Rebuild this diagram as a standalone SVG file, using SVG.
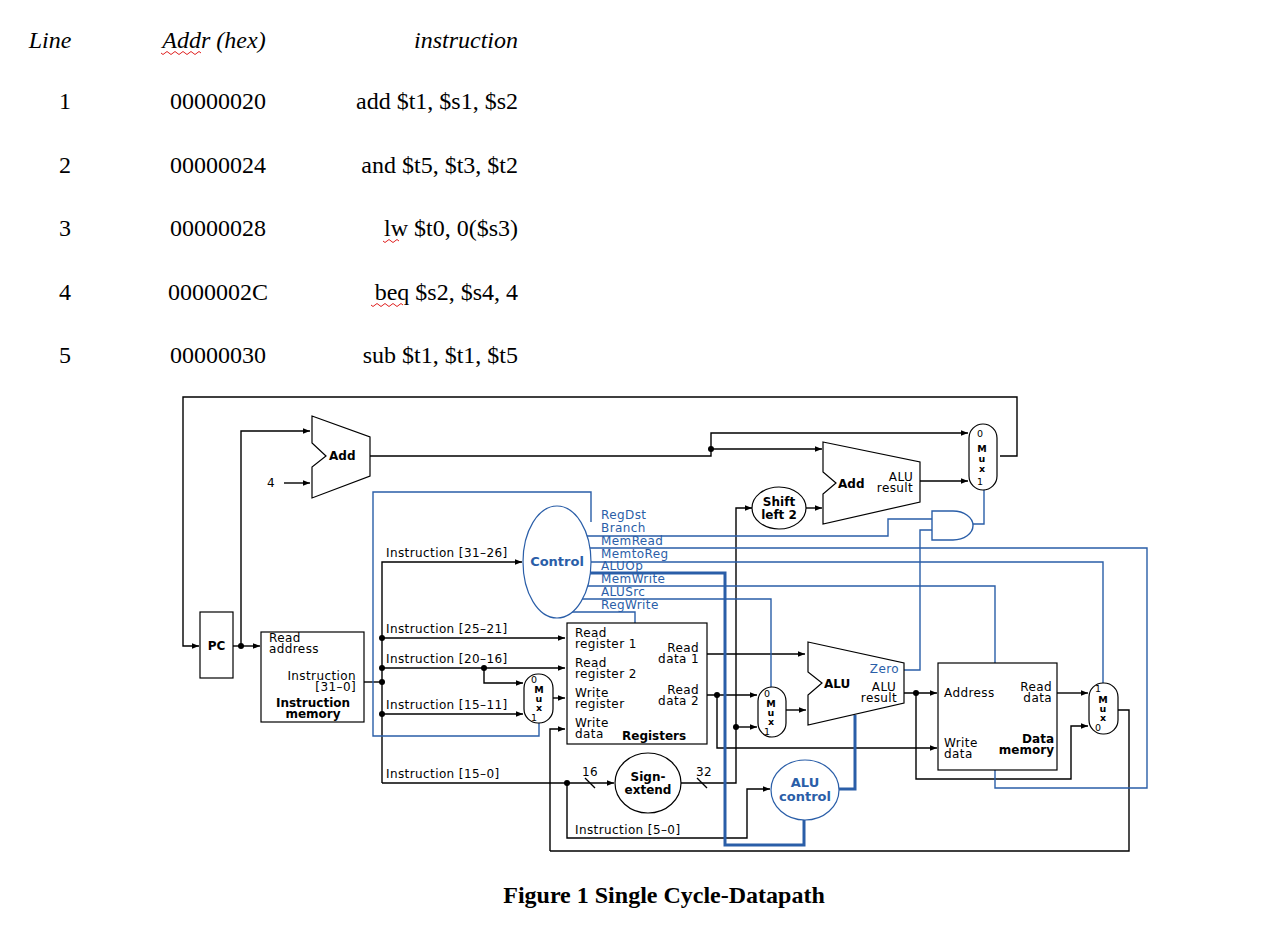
<svg xmlns="http://www.w3.org/2000/svg" width="1286" height="950" viewBox="0 0 1286 950">
<style>
.t{font-family:"Liberation Serif",serif;font-size:24px;fill:#000}
.ti{font-family:"Liberation Serif",serif;font-size:24px;font-style:italic;fill:#000}
.s{font-family:"DejaVu Sans",sans-serif;font-size:12px;letter-spacing:0.4px;fill:#000}
.sb{font-family:"DejaVu Sans",sans-serif;font-size:12px;font-weight:bold;fill:#000}
.b{font-family:"DejaVu Sans",sans-serif;font-size:12px;letter-spacing:0.4px;fill:#2a5ea8}
.bb{font-family:"DejaVu Sans",sans-serif;font-size:13px;font-weight:bold;fill:#2a5ea8}
.mx{font-family:"DejaVu Sans",sans-serif;font-size:9.5px;font-weight:bold;fill:#000;text-anchor:middle}
.mn{font-family:"DejaVu Sans",sans-serif;font-size:9.5px;fill:#000;text-anchor:middle}
.k{fill:none;stroke:#000;stroke-width:1.4}
.u{fill:none;stroke:#2a5ea8;stroke-width:1.4}
.ut{fill:none;stroke:#2a5ea8;stroke-width:3}
.box{fill:#fff;stroke:#000;stroke-width:1.2}
.a{marker-end:url(#ah)}
.sq{fill:none;stroke:#e02020;stroke-width:1}
</style>
<defs>
<marker id="ah" viewBox="0 0 10 10" refX="10" refY="5" markerWidth="9" markerHeight="7" markerUnits="userSpaceOnUse" orient="auto"><path d="M0,1 L10,5 L0,9 z" fill="#000"/></marker>
</defs>
<rect width="1286" height="950" fill="#fff"/>
<g id="table">
<text class="ti" x="50" y="48" text-anchor="middle">Line</text>
<text class="ti" x="214" y="48" text-anchor="middle">Addr (hex)</text>
<text class="ti" x="518" y="48" text-anchor="end">instruction</text>
<path class="sq" d="M161,53 q2,3 4,0 t4,0 t4,0 t4,0 t4,0 t4,0 t4,0 t4,0 t4,0 t4,0"/>
<text class="t" x="65" y="109" text-anchor="middle">1</text><text class="t" x="218" y="109" text-anchor="middle">00000020</text><text class="t" x="518" y="109" text-anchor="end">add $t1, $s1, $s2</text>
<text class="t" x="65" y="173" text-anchor="middle">2</text><text class="t" x="218" y="173" text-anchor="middle">00000024</text><text class="t" x="518" y="173" text-anchor="end">and $t5, $t3, $t2</text>
<text class="t" x="65" y="236" text-anchor="middle">3</text><text class="t" x="218" y="236" text-anchor="middle">00000028</text><text class="t" x="518" y="236" text-anchor="end">lw $t0, 0($s3)</text>
<path class="sq" d="M383,241 q2,3 4,0 t4,0 t4,0 t4,0"/>
<text class="t" x="65" y="300" text-anchor="middle">4</text><text class="t" x="218" y="300" text-anchor="middle">0000002C</text><text class="t" x="518" y="300" text-anchor="end">beq $s2, $s4, 4</text>
<path class="sq" d="M371,305 q2,3 4,0 t4,0 t4,0 t4,0 t4,0 t4,0 t4,0 t4,0"/>
<text class="t" x="65" y="363" text-anchor="middle">5</text><text class="t" x="218" y="363" text-anchor="middle">00000030</text><text class="t" x="518" y="363" text-anchor="end">sub $t1, $t1, $t5</text>
</g>
<g id="connectors">
<path class="k a" d="M1000,456 H1017 V397 H183 V646 H199"/>
<path class="k a" d="M233,646 H260"/>
<path class="k a" d="M241,646 V431 H310"/>
<path class="k a" d="M284,483 H310"/>
<path class="k a" d="M370,456 H711 V433 H968"/>
<path class="k a" d="M711,449 H822"/>
<path class="k a" d="M920,481 H968"/>
<path class="k a" d="M806,508 H822"/>
<path class="k a" d="M680,783 H736 V508 H752"/>
<path class="k a" d="M736,727 H757"/>
<path class="k" d="M364,682 H382"/>
<path class="k a" d="M382,783 V562 H522"/>
<path class="k a" d="M382,638 H565"/>
<path class="k a" d="M382,668 H565"/>
<path class="k a" d="M484,668 V683 H523"/>
<path class="k a" d="M382,714 H523"/>
<path class="k a" d="M553,698 H565"/>
<path class="k a" d="M382,783 H614"/>
<path class="k" d="M585,778 l10,10 M697,778 l10,10"/>
<path class="k a" d="M567,783 V838 H747 V789 H770"/>
<path class="k a" d="M550,851 V729 H565"/>
<path class="k" d="M550,851 H1129 V710 H1118"/>
<path class="k a" d="M707,654 H805"/>
<path class="k a" d="M707,695 H757"/>
<path class="k a" d="M717,695 V748 H937"/>
<path class="k a" d="M786,710 H806"/>
<path class="k a" d="M904,693 H937"/>
<path class="k a" d="M916,693 V779 H1071 V726 H1088"/>
<path class="k a" d="M1057,693 H1088"/>
<path class="u" d="M591,522 V492 H373 V736 H539 V723"/>
<path class="u" d="M560,536 H888 V519 H932"/>
<path class="u" d="M904,670 H920 V530 H932"/>
<path class="u" d="M973,524 H984 V490"/>
<path class="u" d="M560,548 H1147 V788 H995 V770"/>
<path class="u" d="M560,562 H1103 V684"/>
<path class="ut" d="M560,573 H725 V845 H804 V820"/>
<path class="ut" d="M839,789 H855 V715"/>
<path class="u" d="M560,586 H995 V663"/>
<path class="u" d="M560,599 H771 V688"/>
<path class="u" d="M560,612 H635 V623"/>
<g fill="#000">
<circle cx="241" cy="646" r="3"/><circle cx="711" cy="449" r="3"/><circle cx="382" cy="638" r="3"/><circle cx="382" cy="668" r="3"/><circle cx="382" cy="682" r="3"/><circle cx="382" cy="714" r="3"/><circle cx="484" cy="668" r="3"/><circle cx="567" cy="783" r="3"/><circle cx="717" cy="695" r="3"/><circle cx="736" cy="727" r="3"/><circle cx="916" cy="693" r="3"/>
</g>
</g>
<g id="pc"><rect class="box" x="200" y="612" width="33" height="66"/><text class="sb" x="216.5" y="650" text-anchor="middle">PC</text></g>
<g id="add4"><path class="box" d="M312,416 L370,437 V476 L312,498 V467 L326,456 L312,443 Z"/><text class="sb" x="329" y="460">Add</text><text class="s" x="271" y="487" text-anchor="middle">4</text></g>
<g id="imem"><rect class="box" x="261" y="632" width="103" height="90"/>
<text class="s" x="269" y="642">Read</text><text class="s" x="269" y="653">address</text>
<text class="s" x="356" y="680" text-anchor="end">Instruction</text><text class="s" x="356" y="691" text-anchor="end">[31–0]</text>
<text class="sb" x="313" y="707" text-anchor="middle">Instruction</text><text class="sb" x="313" y="718" text-anchor="middle">memory</text></g>
<g id="ilabels">
<text class="s" x="386" y="557">Instruction [31–26]</text>
<text class="s" x="386" y="633">Instruction [25–21]</text>
<text class="s" x="386" y="663">Instruction [20–16]</text>
<text class="s" x="386" y="709">Instruction [15–11]</text>
<text class="s" x="386" y="778">Instruction [15–0]</text>
<text class="s" x="575" y="834">Instruction [5–0]</text>
<text class="s" x="582" y="776">16</text><text class="s" x="696" y="776">32</text>
</g>
<g id="control"><ellipse cx="557" cy="562" rx="34" ry="56" fill="#fff" stroke="#2a5ea8" stroke-width="1.2"/><text class="bb" x="557" y="566" text-anchor="middle">Control</text>
<text class="b" x="601" y="519">RegDst</text><text class="b" x="601" y="532">Branch</text><text class="b" x="601" y="545">MemRead</text><text class="b" x="601" y="558">MemtoReg</text><text class="b" x="601" y="570">ALUOp</text><text class="b" x="601" y="583">MemWrite</text><text class="b" x="601" y="596">ALUSrc</text><text class="b" x="601" y="609">RegWrite</text></g>
<g id="muxdst"><rect class="box" x="524" y="674" width="29" height="49" rx="14"/><text class="mn" x="534" y="683">0</text><text class="mx" x="539" y="693">M</text><text class="mx" x="539" y="702">u</text><text class="mx" x="539" y="711">x</text><text class="mn" x="534" y="721">1</text></g>
<g id="regs"><rect class="box" x="567" y="623" width="140" height="121"/>
<text class="s" x="575" y="637">Read</text><text class="s" x="575" y="648">register 1</text>
<text class="s" x="575" y="667">Read</text><text class="s" x="575" y="678">register 2</text>
<text class="s" x="575" y="697">Write</text><text class="s" x="575" y="708">register</text>
<text class="s" x="575" y="727">Write</text><text class="s" x="575" y="738">data</text>
<text class="sb" x="622" y="740">Registers</text>
<text class="s" x="699" y="652" text-anchor="end">Read</text><text class="s" x="699" y="663" text-anchor="end">data 1</text>
<text class="s" x="699" y="694" text-anchor="end">Read</text><text class="s" x="699" y="705" text-anchor="end">data 2</text></g>
<g id="signext"><ellipse cx="648" cy="783" rx="33" ry="30" fill="#fff" stroke="#000" stroke-width="1.2"/><text class="sb" x="648" y="781" text-anchor="middle">Sign-</text><text class="sb" x="648" y="794" text-anchor="middle">extend</text></g>
<g id="shift"><ellipse cx="779" cy="508" rx="27" ry="21" fill="#fff" stroke="#000" stroke-width="1.2"/><text class="sb" x="779" y="506" text-anchor="middle">Shift</text><text class="sb" x="779" y="519" text-anchor="middle">left 2</text></g>
<g id="addbr"><path class="box" d="M823,442 L920,462 V502 L823,524 V494 L836,483 L823,472 Z"/><text class="sb" x="838" y="488">Add</text><text class="s" x="901" y="481" text-anchor="middle">ALU</text><text class="s" x="895" y="492" text-anchor="middle">result</text></g>
<g id="muxpc"><rect class="box" x="969" y="424" width="28" height="66" rx="14"/><text class="mn" x="980" y="437">0</text><text class="mx" x="982" y="452">M</text><text class="mx" x="982" y="462">u</text><text class="mx" x="982" y="472">x</text><text class="mn" x="980" y="485">1</text></g>
<g id="and"><path d="M932,511 H953 A20,14.5 0 0 1 953,540 H932 Z" fill="#fff" stroke="#2a5ea8" stroke-width="1.4"/></g>
<g id="muxsrc"><rect class="box" x="758" y="687" width="28" height="50" rx="14"/><text class="mn" x="767" y="697">0</text><text class="mx" x="771" y="707">M</text><text class="mx" x="771" y="716">u</text><text class="mx" x="771" y="725">x</text><text class="mn" x="767" y="735">1</text></g>
<g id="alu"><path class="box" d="M808,642 L904,663 V703 L808,725 V695 L822,683 L808,672 Z"/><text class="sb" x="824" y="688">ALU</text><text class="b" x="899" y="673" text-anchor="end">Zero</text><text class="s" x="884" y="691" text-anchor="middle">ALU</text><text class="s" x="879" y="702" text-anchor="middle">result</text></g>
<g id="aluctl"><ellipse cx="805" cy="790" rx="34" ry="30" fill="#fff" stroke="#2a5ea8" stroke-width="1.2"/><text class="bb" x="805" y="787" text-anchor="middle">ALU</text><text class="bb" x="805" y="801" text-anchor="middle">control</text></g>
<g id="dmem"><rect class="box" x="938" y="663" width="119" height="107"/>
<text class="s" x="944" y="697">Address</text>
<text class="s" x="1052" y="691" text-anchor="end">Read</text><text class="s" x="1052" y="702" text-anchor="end">data</text>
<text class="s" x="944" y="747">Write</text><text class="s" x="944" y="758">data</text>
<text class="sb" x="1054" y="743" text-anchor="end">Data</text><text class="sb" x="1054" y="754" text-anchor="end">memory</text></g>
<g id="muxmem"><rect class="box" x="1089" y="683" width="29" height="51" rx="14"/><text class="mn" x="1098" y="692">1</text><text class="mx" x="1103" y="703">M</text><text class="mx" x="1103" y="712">u</text><text class="mx" x="1103" y="721">x</text><text class="mn" x="1098" y="731">0</text></g>
<text x="664" y="903" text-anchor="middle" style="font-family:'Liberation Serif',serif;font-size:24px;font-weight:bold">Figure 1 Single Cycle-Datapath</text>
</svg>
